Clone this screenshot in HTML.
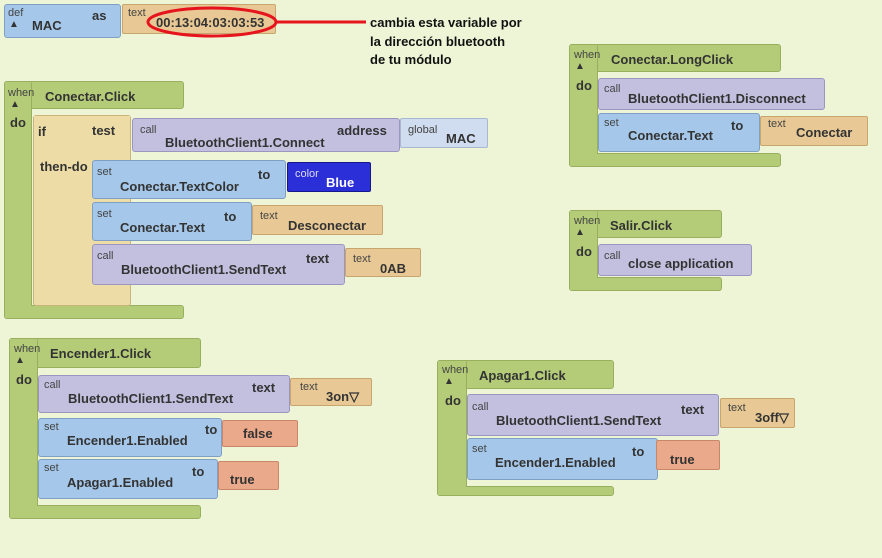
<!DOCTYPE html>
<html><head><meta charset="utf-8"><style>
body{margin:0;width:882px;height:558px;background:#eef5d6;position:relative;overflow:hidden;font-family:"Liberation Sans",sans-serif;color:#333}
div{position:absolute;box-sizing:border-box}
.g{background:#b4cb78;border:1px solid #98b05e;border-radius:3px}
.bl{background:#a5c7e9;border:1px solid #7f9fc4;border-radius:3px}
.pu{background:#c3bfdf;border:1px solid #9b96c0;border-radius:3px}
.tn{background:#e8c995;border:1px solid #c7a56c;border-radius:2px}
.ifb{background:#eddca6;border:1px solid #c9b57a;border-radius:3px}
.or{background:#eaa98a;border:1px solid #c8876a;border-radius:2px}
.gl{background:#d0dcef;border:1px solid #a9b8cf;border-radius:2px}
.cb{background:#2a2fd8;border:1px solid #15188a;border-radius:2px}
span{position:absolute;white-space:nowrap}
.s{font-size:11px;color:#444}
.b{font-size:13px;font-weight:bold;color:#333}
.t{font-size:10px}
</style></head><body>

<!-- def MAC -->
<div class="bl" style="left:4px;top:4px;width:117px;height:34px"></div>
<span class="s" style="left:8px;top:7px">def</span><span class="t" style="left:9px;top:19px">▲</span>
<span class="b" style="left:32px;top:18px">MAC</span><span class="b" style="left:92px;top:8px">as</span>
<div class="tn" style="left:122px;top:4px;width:154px;height:30px"></div>
<span class="s" style="left:128px;top:7px">text</span>
<span class="b" style="left:156px;top:15px">00:13:04:03:03:53</span>
<svg style="position:absolute;left:0;top:0" width="882" height="60"><ellipse cx="212" cy="22" rx="64" ry="14" fill="none" stroke="#e5141d" stroke-width="3"/><line x1="276" y1="22" x2="366" y2="22" stroke="#e5141d" stroke-width="3"/></svg>
<span class="b" style="left:370px;top:15px;color:#111;font-size:13px">cambia esta variable por</span>
<span class="b" style="left:370px;top:34px;color:#111">la dirección bluetooth</span>
<span class="b" style="left:370px;top:52px;color:#111">de tu módulo</span>

<!-- Conectar.Click -->
<div class="g" style="left:4px;top:81px;width:180px;height:28px"></div>
<div class="g" style="left:4px;top:81px;width:28px;height:238px"></div>
<div class="g" style="left:4px;top:305px;width:180px;height:14px"></div>
<div style="left:5px;top:82px;width:26px;height:236px;background:#b4cb78"></div>
<span class="s" style="left:8px;top:87px">when</span><span class="t" style="left:10px;top:99px">▲</span>
<span class="b" style="left:45px;top:89px">Conectar.Click</span>
<span class="b" style="left:10px;top:115px">do</span>
<div class="ifb" style="left:33px;top:115px;width:98px;height:191px"></div>
<div style="left:34px;top:116px;width:96px;height:40px;background:#eddca6"></div>
<div style="left:34px;top:156px;width:56px;height:140px;background:#eddca6"></div>
<span class="b" style="left:38px;top:124px">if</span>
<span class="b" style="left:92px;top:123px">test</span>
<span class="b" style="left:40px;top:159px">then-do</span>
<div class="pu" style="left:132px;top:118px;width:268px;height:34px"></div>
<span class="s" style="left:140px;top:124px">call</span>
<span class="b" style="left:165px;top:135px">BluetoothClient1.Connect</span>
<span class="b" style="left:337px;top:123px">address</span>
<div class="gl" style="left:400px;top:118px;width:88px;height:30px"></div>
<span class="s" style="left:408px;top:124px">global</span><span class="b" style="left:446px;top:131px">MAC</span>
<div class="bl" style="left:92px;top:160px;width:194px;height:39px"></div>
<span class="s" style="left:97px;top:166px">set</span><span class="b" style="left:120px;top:179px">Conectar.TextColor</span>
<span class="b" style="left:258px;top:167px">to</span>
<div class="cb" style="left:287px;top:162px;width:84px;height:30px"></div>
<span class="s" style="left:295px;top:168px;color:#dde">color</span><span class="b" style="left:326px;top:175px;color:#fff">Blue</span>
<div class="bl" style="left:92px;top:202px;width:160px;height:39px"></div>
<span class="s" style="left:97px;top:208px">set</span><span class="b" style="left:120px;top:220px">Conectar.Text</span>
<span class="b" style="left:224px;top:209px">to</span>
<div class="tn" style="left:252px;top:205px;width:131px;height:30px"></div>
<span class="s" style="left:260px;top:210px">text</span><span class="b" style="left:288px;top:218px">Desconectar</span>
<div class="pu" style="left:92px;top:244px;width:253px;height:41px"></div>
<span class="s" style="left:97px;top:250px">call</span><span class="b" style="left:121px;top:262px">BluetoothClient1.SendText</span>
<span class="b" style="left:306px;top:251px">text</span>
<div class="tn" style="left:345px;top:248px;width:76px;height:29px"></div>
<span class="s" style="left:353px;top:253px">text</span><span class="b" style="left:380px;top:261px">0AB</span>

<!-- Conectar.LongClick -->
<div class="g" style="left:569px;top:44px;width:212px;height:28px"></div>
<div class="g" style="left:569px;top:44px;width:29px;height:123px"></div>
<div class="g" style="left:569px;top:153px;width:212px;height:14px"></div>
<div style="left:570px;top:45px;width:27px;height:121px;background:#b4cb78"></div>
<span class="s" style="left:574px;top:49px">when</span><span class="t" style="left:575px;top:61px">▲</span>
<span class="b" style="left:611px;top:52px">Conectar.LongClick</span>
<span class="b" style="left:576px;top:78px">do</span>
<div class="pu" style="left:598px;top:78px;width:227px;height:32px"></div>
<span class="s" style="left:604px;top:83px">call</span><span class="b" style="left:628px;top:91px">BluetoothClient1.Disconnect</span>
<div class="bl" style="left:598px;top:113px;width:162px;height:39px"></div>
<span class="s" style="left:604px;top:117px">set</span><span class="b" style="left:628px;top:128px">Conectar.Text</span>
<span class="b" style="left:731px;top:118px">to</span>
<div class="tn" style="left:760px;top:116px;width:108px;height:30px"></div>
<span class="s" style="left:768px;top:118px">text</span><span class="b" style="left:796px;top:125px">Conectar</span>

<!-- Salir.Click -->
<div class="g" style="left:569px;top:210px;width:153px;height:28px"></div>
<div class="g" style="left:569px;top:210px;width:29px;height:81px"></div>
<div class="g" style="left:569px;top:277px;width:153px;height:14px"></div>
<div style="left:570px;top:211px;width:27px;height:79px;background:#b4cb78"></div>
<span class="s" style="left:574px;top:215px">when</span><span class="t" style="left:575px;top:227px">▲</span>
<span class="b" style="left:610px;top:218px">Salir.Click</span>
<span class="b" style="left:576px;top:244px">do</span>
<div class="pu" style="left:598px;top:244px;width:154px;height:32px"></div>
<span class="s" style="left:604px;top:250px">call</span><span class="b" style="left:628px;top:256px">close application</span>

<!-- Encender1.Click -->
<div class="g" style="left:9px;top:338px;width:192px;height:30px"></div>
<div class="g" style="left:9px;top:338px;width:29px;height:181px"></div>
<div class="g" style="left:9px;top:505px;width:192px;height:14px"></div>
<div style="left:10px;top:339px;width:27px;height:179px;background:#b4cb78"></div>
<span class="s" style="left:14px;top:343px">when</span><span class="t" style="left:15px;top:355px">▲</span>
<span class="b" style="left:50px;top:346px">Encender1.Click</span>
<span class="b" style="left:16px;top:372px">do</span>
<div class="pu" style="left:38px;top:375px;width:252px;height:38px"></div>
<span class="s" style="left:44px;top:379px">call</span><span class="b" style="left:68px;top:391px">BluetoothClient1.SendText</span>
<span class="b" style="left:252px;top:380px">text</span>
<div class="tn" style="left:290px;top:378px;width:82px;height:28px"></div>
<span class="s" style="left:300px;top:381px">text</span><span class="b" style="left:326px;top:389px">3on▽</span>
<div class="bl" style="left:38px;top:418px;width:184px;height:39px"></div>
<span class="s" style="left:44px;top:421px">set</span><span class="b" style="left:67px;top:433px">Encender1.Enabled</span>
<span class="b" style="left:205px;top:422px">to</span>
<div class="or" style="left:222px;top:420px;width:76px;height:27px"></div>
<span class="b" style="left:243px;top:426px">false</span>
<div class="bl" style="left:38px;top:459px;width:180px;height:40px"></div>
<span class="s" style="left:44px;top:462px">set</span><span class="b" style="left:67px;top:475px">Apagar1.Enabled</span>
<span class="b" style="left:192px;top:464px">to</span>
<div class="or" style="left:218px;top:461px;width:61px;height:29px"></div>
<span class="b" style="left:230px;top:472px">true</span>

<!-- Apagar1.Click -->
<div class="g" style="left:437px;top:360px;width:177px;height:29px"></div>
<div class="g" style="left:437px;top:360px;width:30px;height:136px"></div>
<div class="g" style="left:437px;top:486px;width:177px;height:10px"></div>
<div style="left:438px;top:361px;width:28px;height:134px;background:#b4cb78"></div>
<span class="s" style="left:442px;top:364px">when</span><span class="t" style="left:444px;top:376px">▲</span>
<span class="b" style="left:479px;top:368px">Apagar1.Click</span>
<span class="b" style="left:445px;top:393px">do</span>
<div class="pu" style="left:467px;top:394px;width:252px;height:42px"></div>
<span class="s" style="left:472px;top:401px">call</span><span class="b" style="left:496px;top:413px">BluetoothClient1.SendText</span>
<span class="b" style="left:681px;top:402px">text</span>
<div class="tn" style="left:720px;top:398px;width:75px;height:30px"></div>
<span class="s" style="left:728px;top:402px">text</span><span class="b" style="left:755px;top:410px">3off▽</span>
<div class="bl" style="left:467px;top:438px;width:191px;height:42px"></div>
<span class="s" style="left:472px;top:443px">set</span><span class="b" style="left:495px;top:455px">Encender1.Enabled</span>
<span class="b" style="left:632px;top:444px">to</span>
<div class="or" style="left:656px;top:440px;width:64px;height:30px"></div>
<span class="b" style="left:670px;top:452px">true</span>
</body></html>
